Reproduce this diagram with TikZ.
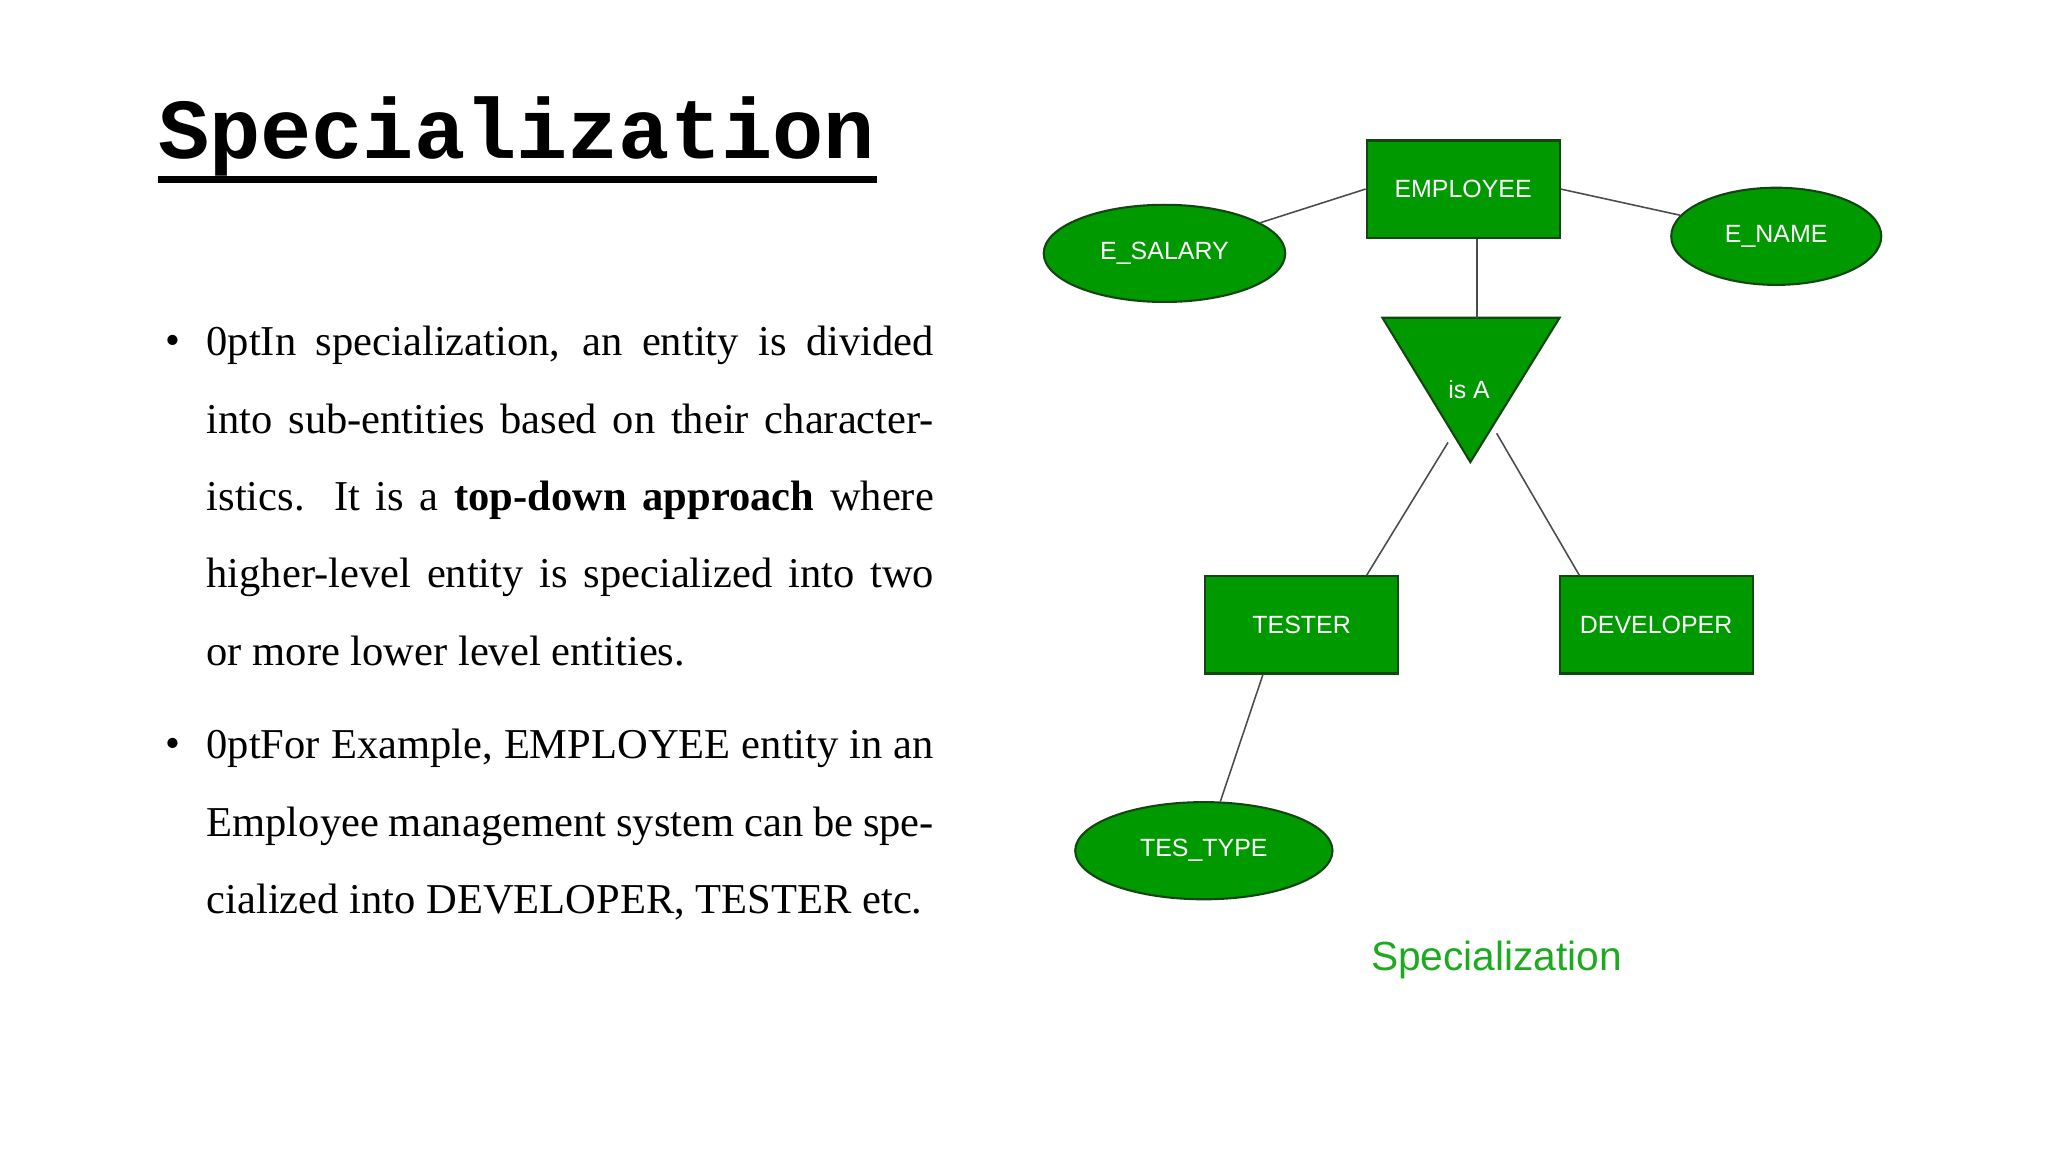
\documentclass[tikz,border=0pt]{standalone}
\usepackage{fontspec}
\setmainfont{Liberation Serif}
\newfontfamily\arial{Liberation Sans}
\newfontfamily\cour{Liberation Mono}
\usetikzlibrary{shapes.geometric}
\definecolor{erg}{RGB}{0,153,0}
\definecolor{erb}{RGB}{20,70,20}
\definecolor{capg}{RGB}{30,170,30}
\tikzset{x=0.5pt,y=-0.5pt,
 ent/.style={draw=erb,line width=0.8pt,fill=erg,minimum width=73.5pt,minimum height=37pt,text=white,font=\arial\fontsize{9.5}{11}\selectfont,inner sep=0pt},
 att/.style={ellipse,draw=erb,line width=0.8pt,fill=erg,text=white,font=\arial\fontsize{9.5}{11}\selectfont,inner sep=0pt},
 link/.style={draw=black!70,line width=0.6pt},
 para/.style={anchor=north west,inner sep=0pt,text width=277pt,align=justify,font=\fontsize{16.2}{29.5}\selectfont\hyphenpenalty=10000\exhyphenpenalty=50},
 bul/.style={anchor=base,inner sep=0pt,font=\fontsize{16.2}{20}\selectfont}}
\begin{document}
\begin{tikzpicture}
\useasboundingbox (0,0) rectangle (1560,877.5);
\node[anchor=base west,font=\cour\bfseries\fontsize{32.5}{34}\selectfont,inner sep=0pt] (title) at (120,121) {Specialization};
\draw[line width=2.6pt] (120,137) -- (668,137);
\node[bul] (b1) at (132,270) {\textbullet};
\node[para] (p1) at (157,248) {In specialization, an entity is divided into sub-entities based on their characteristics. It is a \textbf{top-down approach} where higher-level entity is specialized into two or more lower level entities.};
\node[bul] (b2) at (132,577) {\textbullet};
\node[para] (p2) at (157,555) {For Example, EMPLOYEE entity in an Employee management system can be specialized into DEVELOPER, TESTER etc.};
\node[ent] (emp) at (1114.5,144) {EMPLOYEE};
\node[ent] (tes) at (991.5,476) {TESTER};
\node[ent] (dev) at (1261.5,476) {DEVELOPER};
\node[att,minimum width=92pt,minimum height=37pt] (sal) at (887,193) {E\_SALARY};
\node[att,minimum width=80pt,minimum height=37pt] (nam) at (1353,180) {E\_NAME};
\node[att,minimum width=98pt,minimum height=37pt] (tt) at (917,648) {TES\_TYPE};
\draw[draw=erb,line width=0.8pt,fill=erg] (1053,242) -- (1188,242) -- (1120,352) -- cycle;
\node[text=white,font=\arial\fontsize{9.5}{11}\selectfont] (isa) at (1119,297) {is A};
\coordinate (ta) at (1125,242);
\coordinate (tl) at (1103,337);
\coordinate (tr) at (1140,330);
\draw[link] (sal) -- (emp.west);
\draw[link] (emp.east) -- (nam);
\draw[link] (emp.south -| ta) -- (ta);
\draw[link] (tl) -- (tes.north -| 1041,0);
\draw[link] (tr) -- (dev.north -| 1203,0);
\draw[link] (tes.south -| 962,0) -- (tt);
\node[text=capg,font=\arial\fontsize{15.5}{18}\selectfont] (cap) at (1140,731) {Specialization};
\end{tikzpicture}
\end{document}
